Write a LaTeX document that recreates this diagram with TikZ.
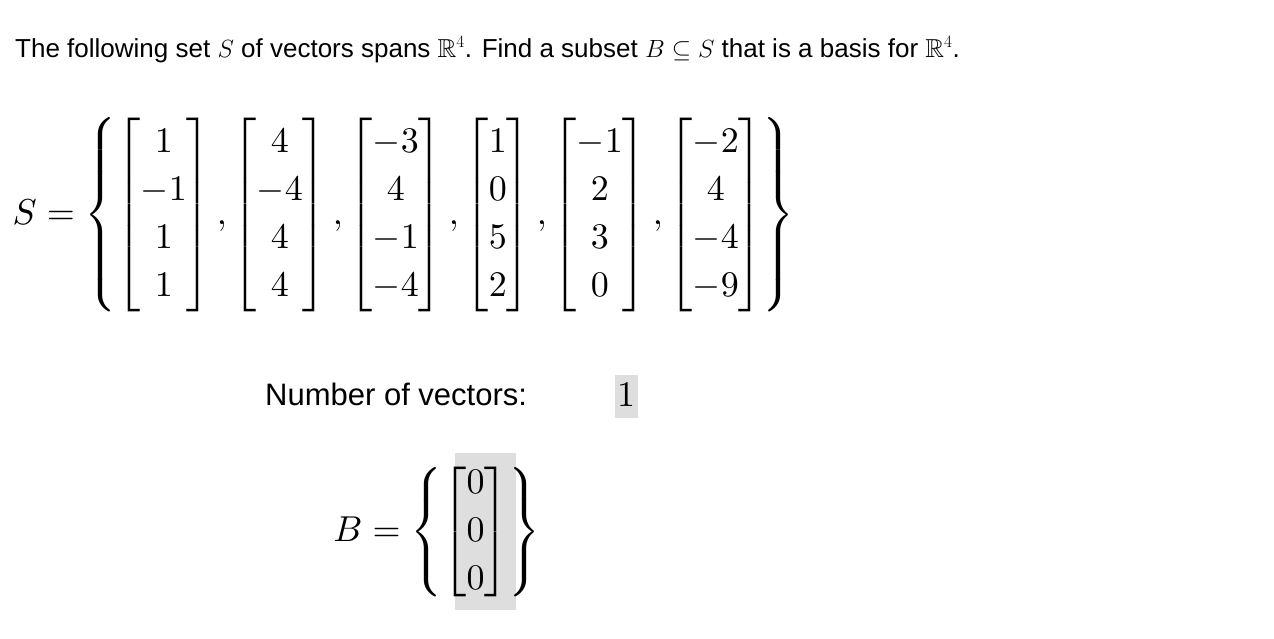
\documentclass[tikz,border=0pt]{standalone}
\usepackage{amsmath,amssymb}
\usepackage{fontspec}
\setsansfont{Liberation Sans}
\begin{document}
\begin{tikzpicture}[x=1pt,y=-1pt]
\useasboundingbox (0,0) rectangle (1274,638);
\tikzset{txt/.style={inner sep=0pt,font=\sffamily\fontsize{26}{30}\selectfont},
 bigmath/.style={inner sep=0pt,scale=3.6,font=\fontsize{10}{13.3}\selectfont},
 gray/.style={fill=black!13,draw=none}}
\node[txt,anchor=base west] (title) at (15,57) {The following set $S$ of vectors spans $\mathbb{R}^4$. Find a subset $B\subseteq S$ that is a basis for $\mathbb{R}^4$.};
\node[bigmath,anchor=west] (S) at (12,215) {\setlength{\arraycolsep}{1.7pt}$S=\left\{\begin{bmatrix}1\\-1\\1\\1\end{bmatrix},\begin{bmatrix}4\\-4\\4\\4\end{bmatrix},\begin{bmatrix}-3\\4\\-1\\-4\end{bmatrix},\begin{bmatrix}1\\0\\5\\2\end{bmatrix},\begin{bmatrix}-1\\2\\3\\0\end{bmatrix},\begin{bmatrix}-2\\4\\-4\\-9\end{bmatrix}\right\}$};
\node[txt,anchor=base west,font=\sffamily\fontsize{31}{36}\selectfont] (num) at (265,405) {Number of vectors:};
\fill[gray] (615,375) rectangle (638,418);
\node[bigmath,anchor=base] (one) at (626,406) {1};
\fill[gray] (455,453) rectangle (516,610);
\node[bigmath,anchor=center] (B) at (437,532) {\setlength{\arraycolsep}{1.7pt}$B=\left\{\begin{bmatrix}0\\0\\0\end{bmatrix}\right\}$};
\end{tikzpicture}
\end{document}
